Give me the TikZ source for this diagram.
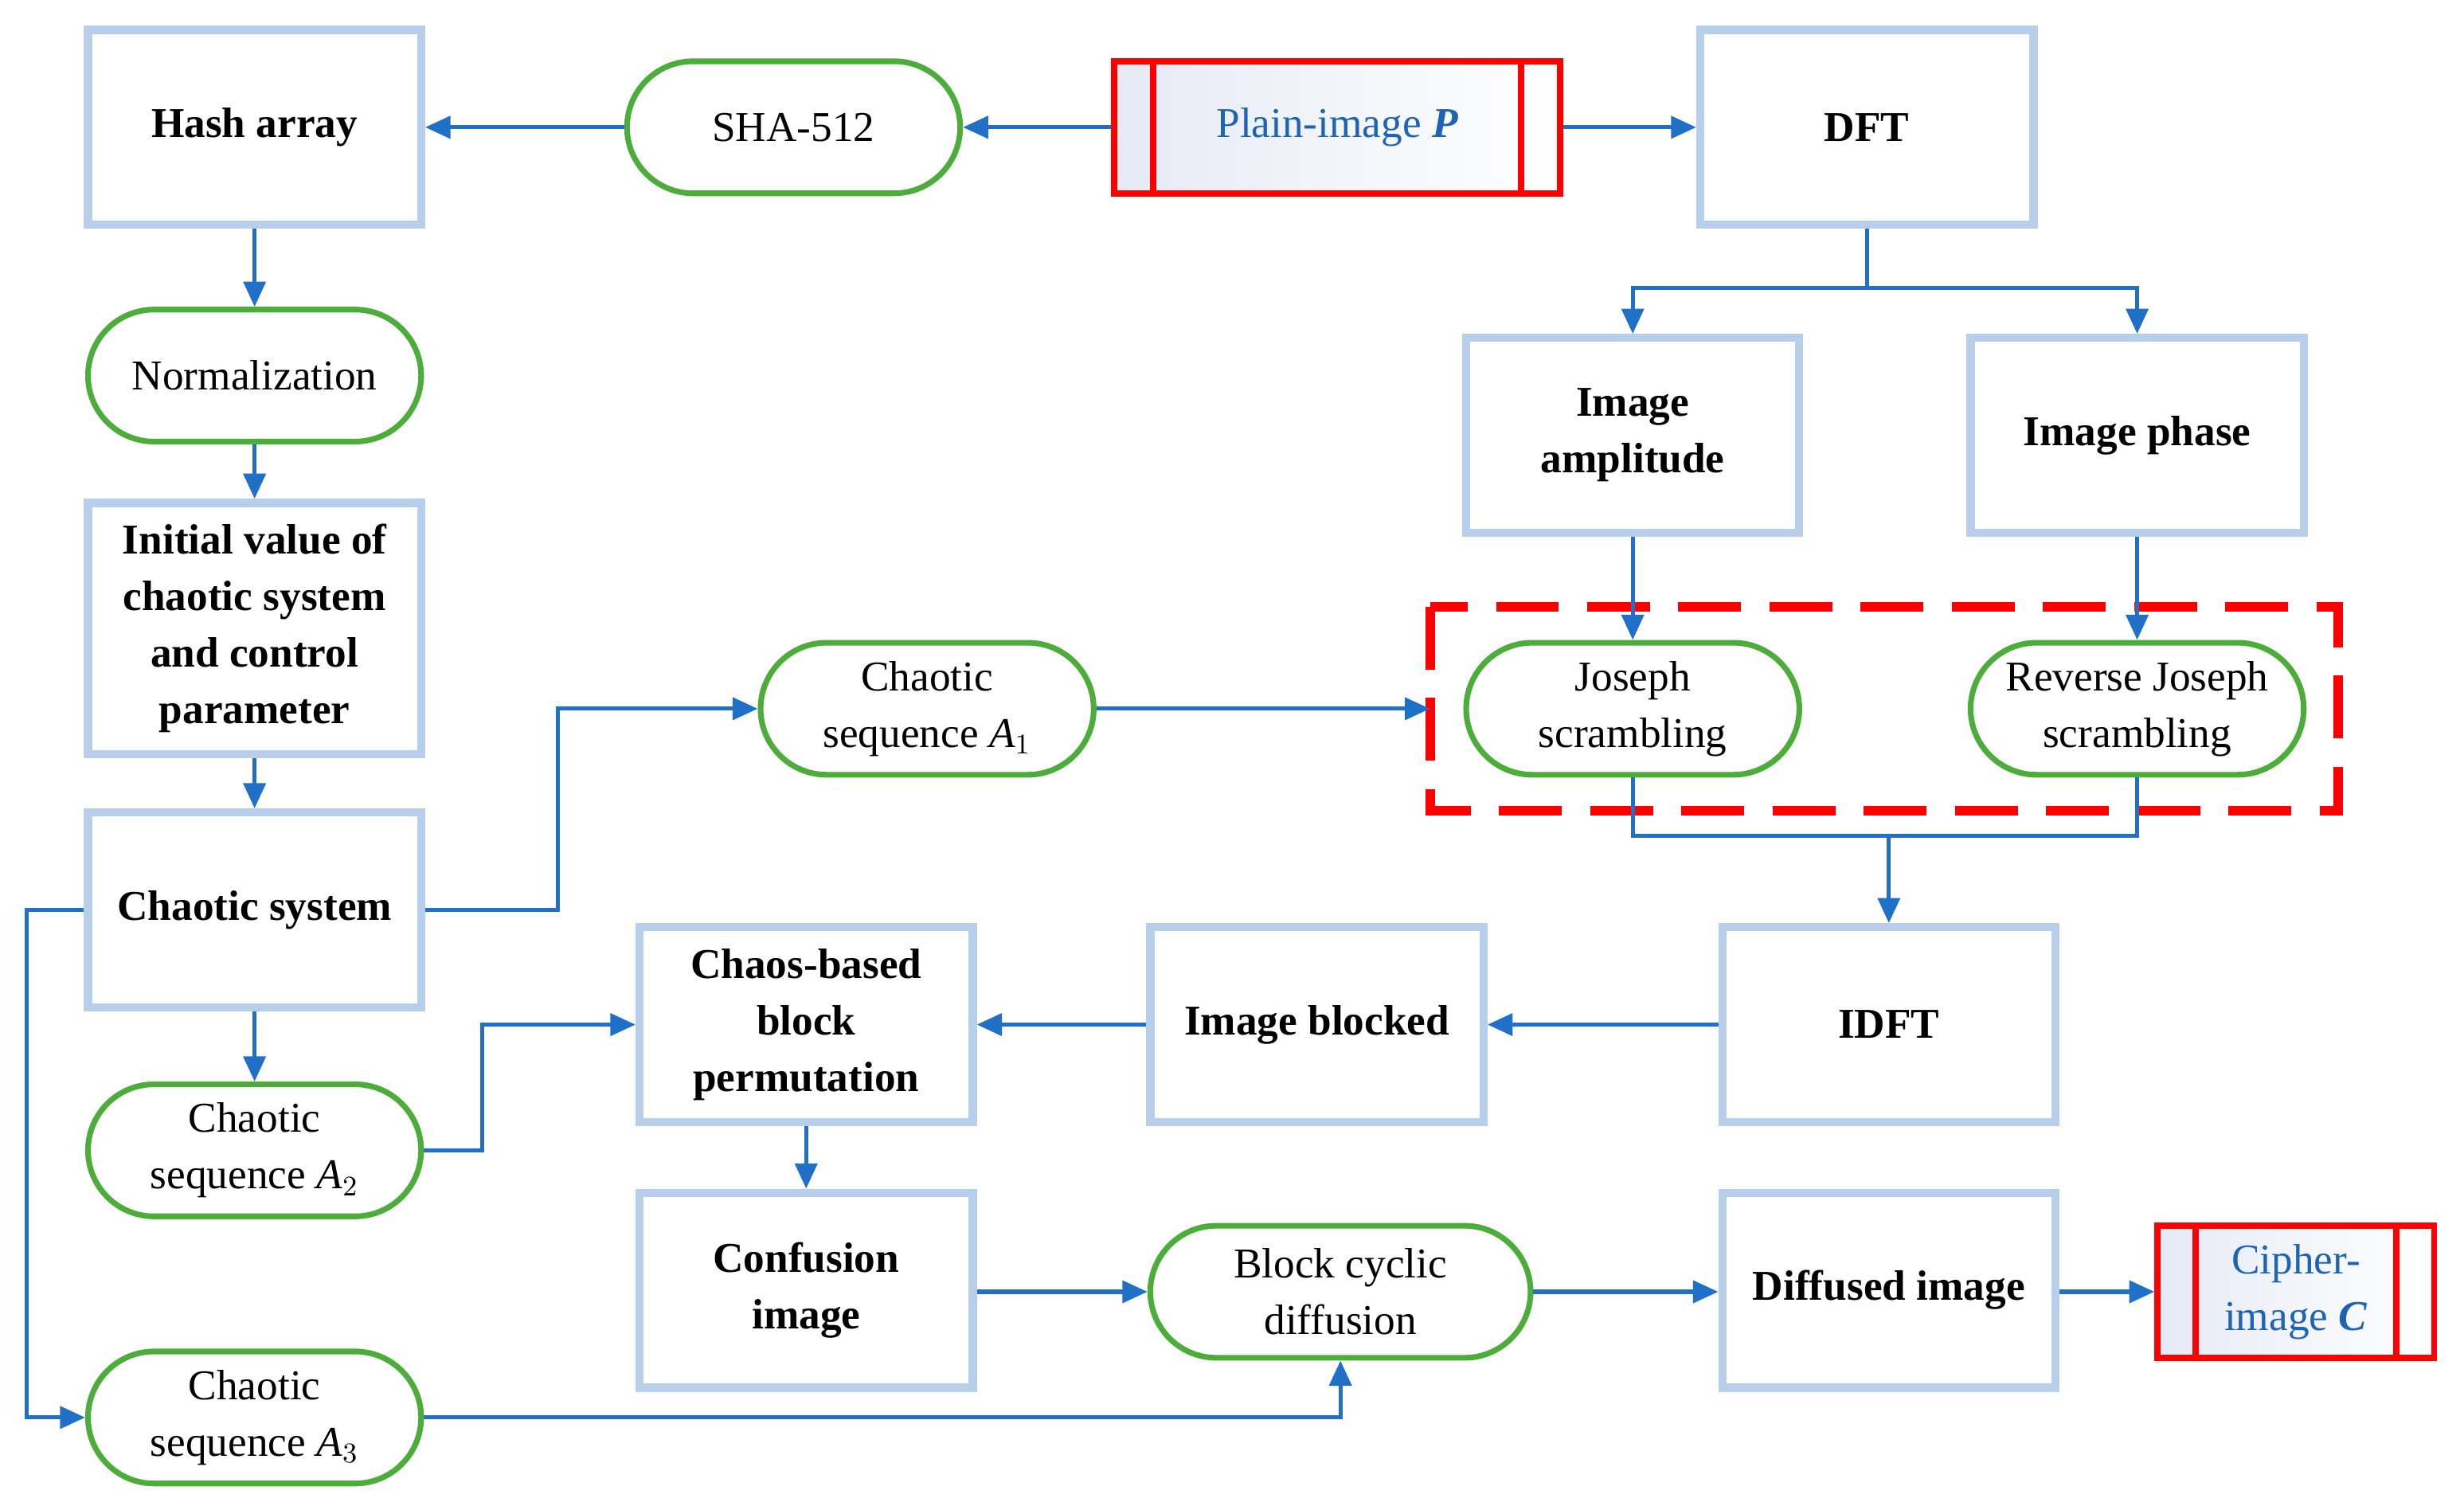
\documentclass[tikz,border=0pt]{standalone}
\usepackage{fontspec}
\setmainfont{Liberation Serif}
\usetikzlibrary{arrows.meta,calc}
\definecolor{bbox}{RGB}{183,207,234}
\definecolor{gr}{RGB}{76,173,58}
\definecolor{ar}{RGB}{32,112,200}
\definecolor{tb}{RGB}{28,100,180}
\begin{document}
\begin{tikzpicture}[x=0.5pt,y=-0.5pt,
 box/.style={draw=bbox,line width=2.6pt,minimum width=106pt,minimum height=62pt,align=center,inner sep=1pt,font=\fontsize{13.5}{18}\selectfont\bfseries},
 ov/.style={draw=gr,line width=1.8pt,rounded corners=21pt,minimum width=106pt,minimum height=42pt,align=center,inner sep=1pt,font=\fontsize{13.5}{18}\selectfont},
 io/.style={draw=red,line width=2pt,align=center,inner sep=1pt,text=tb,font=\fontsize{13.5}{18}\selectfont,left color={rgb,255:red,230;green,234;blue,245},right color=white},
 arr/.style={draw=ar,line width=1.3pt,-{Triangle[length=8pt,width=7pt]}},
 ln/.style={draw=ar,line width=1.3pt}]
\useasboundingbox (0,0) rectangle (1568,958);
\node[box] (hash) at (162,81) {Hash array};
\node[ov] (sha) at (505,81) {SHA-512};
\node[io,minimum width=142pt,minimum height=42pt] (plain) at (851,81) {Plain-image \textbf{\textit{P}}};
\draw[red,line width=2pt] (734,39)--(734,123) (968,39)--(968,123);
\node[box] (dft) at (1188,81) {DFT};
\node[ov] (norm) at (162,239) {Normalization};
\node[box,minimum height=80pt] (init) at (162,400) {Initial value of\\chaotic system\\and control\\parameter};
\node[box] (cs) at (162,579) {Chaotic system};
\node[ov] (a2) at (162,732) {Chaotic\\sequence \textit{A}$_2$};
\node[ov] (a3) at (162,902) {Chaotic\\sequence \textit{A}$_3$};
\node[ov] (a1) at (590,451) {Chaotic\\sequence \textit{A}$_1$};
\node[box] (amp) at (1039,277) {Image\\amplitude};
\node[box] (pha) at (1360,277) {Image phase};
\node[ov] (jos) at (1039,451) {Joseph\\scrambling};
\node[ov] (rjos) at (1360,451) {Reverse Joseph\\scrambling};
\draw[red,line width=3pt,dash pattern=on 20pt off 9pt] (910,386) rectangle (1488,516);
\coordinate (dl) at (910,451);
\node[box] (idft) at (1202,652) {IDFT};
\node[box] (blk) at (838,652) {Image blocked};
\node[box] (perm) at (513,652) {Chaos-based\\block\\permutation};
\node[box] (conf) at (513,821) {Confusion\\image};
\node[ov,minimum width=121pt] (bcd) at (853,822) {Block cyclic\\diffusion};
\node[box] (dif) at (1202,821) {Diffused image};
\node[io,minimum width=88pt,minimum height=42pt] (ciph) at (1461,822) {Cipher-\\image \textbf{\textit{C}}};
\draw[red,line width=2pt] (1397,780)--(1397,864) (1525,780)--(1525,864);
% connectors
\draw[arr] (sha)--(hash);
\draw[arr] (plain)--(sha);
\draw[arr] (plain)--(dft);
\draw[arr] (hash)--(norm);
\draw[arr] (norm)--(init);
\draw[arr] (init)--(cs);
\draw[ln] (dft.south)--(1188,183) coordinate (dj);
\draw[arr] (dj)-|(amp.north);
\draw[arr] (dj)-|(pha.north);
\draw[arr] (amp)--(jos);
\draw[arr] (pha)--(rjos);
\draw[arr] (cs.east)--(355,579)|-(a1.west);
\draw[arr] (a1.east)--(dl);
\draw[ln] (jos.south)--(1039,532)-|(rjos.south);
\draw[arr] (idft.north|-0,532)--(idft.north);
\draw[arr] (idft)--(blk);
\draw[arr] (blk)--(perm);
\draw[arr] (cs)--(a2);
\draw[arr] (a2.east)--(307,732)|-(perm.west);
\draw[arr] (perm)--(conf);
\draw[arr] (conf.east|-bcd)--(bcd.west);
\draw[arr] (bcd)--(dif.west|-bcd);
\draw[arr] (dif.east|-ciph)--(ciph);
\draw[arr] (cs.west)--(17,579)|-(a3.west);
\draw[arr] (a3.east)-|(bcd.south);
\end{tikzpicture}
\end{document}
